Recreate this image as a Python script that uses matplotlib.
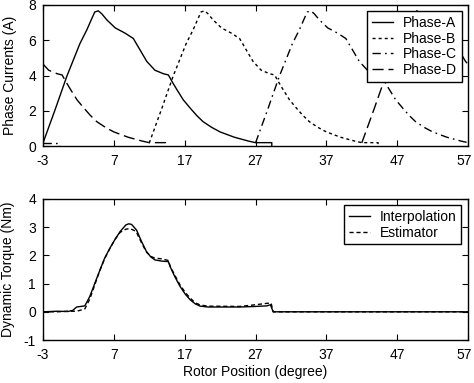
import matplotlib
matplotlib.use("Agg")
import matplotlib.pyplot as plt
import matplotlib.transforms as mtransforms

plt.rcParams['font.family'] = ['Liberation Sans', 'DejaVu Sans']

# ---------------- data: phase currents (A) vs rotor position (deg) ----------------
phase_a_x = [-3, -1.3, 0.35, 2.2, 3.2, 3.8, 4.3, 4.8, 5.3, 6.0, 7.2, 8.6, 9.75, 10.7, 11.65,
             12.8, 14.0, 14.7, 15.3, 15.9, 16.8, 17.8, 18.7, 19.6, 20.8, 22.0, 24.0, 26.0, 27.0,
             29.3, 29.3]
phase_a_y = [0.17, 2.05, 3.94, 5.8, 6.6, 7.15, 7.6, 7.67, 7.5, 7.16, 6.7, 6.4, 6.1, 5.45, 4.8,
             4.3, 4.1, 4.03, 3.6, 3.2, 2.62, 2.14, 1.73, 1.38, 1.06, 0.8, 0.5, 0.28, 0.19,
             0.19, 0.0]

phase_b_x = [12, 13.7, 15.35, 17.2, 18.2, 18.8, 19.3, 19.8, 20.3, 21.0, 22.2, 23.6, 24.75, 25.7, 26.65,
             27.8, 29.0, 29.7, 30.3, 30.9, 31.8, 32.8, 33.7, 34.6, 35.8, 37.0, 39.0, 41.0, 42.0,
             44.3, 44.3]
phase_b_y = [0.17, 2.05, 3.94, 5.8, 6.6, 7.15, 7.6, 7.67, 7.5, 7.16, 6.7, 6.4, 6.1, 5.45, 4.8,
             4.3, 4.1, 4.03, 3.6, 3.2, 2.62, 2.14, 1.73, 1.38, 1.06, 0.8, 0.5, 0.28, 0.19,
             0.19, 0.0]

phase_c_x = [27, 28.7, 30.35, 32.2, 33.2, 33.8, 34.3, 34.8, 35.3, 36.0, 37.2, 38.6, 39.75, 40.7, 41.65,
             42.8, 44.0, 44.7, 45.3, 45.9, 46.8, 47.8, 48.7, 49.6, 50.8, 52.0, 54.0, 56.0, 57.0]
phase_c_y = [0.17, 2.05, 3.94, 5.8, 6.6, 7.15, 7.6, 7.67, 7.5, 7.16, 6.7, 6.4, 6.1, 5.45, 4.8,
             4.3, 4.1, 4.03, 3.6, 3.2, 2.62, 2.14, 1.73, 1.38, 1.06, 0.8, 0.5, 0.28, 0.19]
phase_c_tail_x = [-3, -0.7, -0.7]
phase_c_tail_y = [0.19, 0.19, 0.0]

phase_d_x = [42, 43.7, 45.35, 47.2, 48.2, 48.8, 49.3, 49.8, 50.3, 51.0, 52.2, 53.6, 54.75, 55.7,
             56.65, 57.0]
phase_d_y = [0.17, 2.05, 3.94, 5.8, 6.6, 7.15, 7.6, 7.67, 7.5, 7.16, 6.7, 6.4, 6.1, 5.45,
             4.8, 4.65]
phase_d_tail_x = [-3, -2.2, -1.0, -0.3, 0.3, 0.9, 1.8, 2.8, 3.7, 4.6, 5.8, 7.0, 9.0, 11.0, 12.0,
                  14.3, 14.3]
phase_d_tail_y = [4.65, 4.3, 4.1, 4.03, 3.6, 3.2, 2.62, 2.14, 1.73, 1.38, 1.06, 0.8, 0.5, 0.28, 0.19,
                  0.19, 0.0]

# ---------------- data: dynamic torque (Nm) ----------------
interp_x = [-3, -1, 0.5, 1.2, 1.75, 2.9, 3.6, 4.3, 5.05, 5.7, 6.45, 7.2, 7.9, 8.7, 9.1, 9.5,
            10.2, 10.9, 11.6, 12.2, 12.8, 13.7, 14.7, 14.95, 15.6, 16.35, 17.1, 17.8, 18.5,
            19.2, 20.3, 24.8, 27.0, 28.6, 29.1, 29.5, 57]
interp_y = [0.0, 0.02, 0.01, 0.05, 0.17, 0.21, 0.54, 1.0, 1.49, 1.9, 2.26, 2.58, 2.85, 3.08, 3.12, 3.1,
            2.9, 2.5, 2.14, 1.95, 1.84, 1.8, 1.78, 1.6, 1.25, 0.9, 0.62, 0.42, 0.28,
            0.2, 0.17, 0.17, 0.19, 0.21, 0.25, 0.0, 0.0]

est_x = [-3, -1, 0.5, 1.75, 2.9, 3.6, 4.3, 5.05, 5.7, 6.45, 7.2, 7.9, 8.7, 9.3, 9.9, 10.2,
         10.9, 11.6, 12.2, 12.8, 13.7, 14.7, 14.95, 15.6, 16.35, 17.1, 17.8, 18.5, 19.2, 20.3,
         24.8, 27.0, 28.6, 29.2, 29.5, 57]
est_y = [0.0, 0.0, 0.02, 0.02, 0.1, 0.45, 0.95, 1.48, 1.88, 2.25, 2.58, 2.82, 2.93, 2.95, 2.88, 2.82,
         2.45, 2.12, 1.97, 1.9, 1.88, 1.82, 1.62, 1.3, 0.95, 0.68, 0.48, 0.32, 0.24, 0.2,
         0.19, 0.25, 0.3, 0.31, 0.0, 0.0]

x_ticks = [-3, 7, 17, 27, 37, 47, 57]
top_y_ticks = [0, 2, 4, 6, 8]
bot_y_ticks = [-1, 0, 1, 2, 3, 4]

# ---------------- figure ----------------
W, H = 474, 383
fig = plt.figure(figsize=(W / 100, H / 100), dpi=100)

def ax_rect(l, t, r, b):
    return [l / W, 1 - b / H, (r - l) / W, (b - t) / H]

ax1 = fig.add_axes(ax_rect(43, 5, 468, 146))
ax2 = fig.add_axes(ax_rect(43, 199, 468, 340))

lw = 1.0
col = 'black'
sty_b = (0, (2.2, 2.2))
sty_c = (0, (6, 3, 1.2, 3))
sty_d = (0, (8, 3.5))

ax1.plot(phase_a_x, phase_a_y, color=col, lw=lw, ls='-', label='Phase-A')
ax1.plot(phase_b_x, phase_b_y, color=col, lw=lw, ls=sty_b, label='Phase-B')
ax1.plot(phase_c_x, phase_c_y, color=col, lw=lw, ls=sty_c, label='Phase-C')
ax1.plot(phase_d_x, phase_d_y, color=col, lw=lw, ls=sty_d, label='Phase-D')
ax1.plot(phase_c_tail_x, phase_c_tail_y, color=col, lw=lw, ls=sty_c)
ax1.plot(phase_d_tail_x, phase_d_tail_y, color=col, lw=lw, ls=sty_d)

ax2.plot(interp_x, interp_y, color=col, lw=lw, ls='-', label='Interpolation')
ax2.plot(est_x, est_y, color=col, lw=lw, ls=(0, (3, 2)), label='Estimator')

shift = mtransforms.ScaledTranslation(-4 / 100, 0, fig.dpi_scale_trans)
for ax, yt, ylim in ((ax1, top_y_ticks, (0, 8)), (ax2, bot_y_ticks, (-1, 4))):
    ax.set_xlim(-3, 57)
    ax.set_ylim(*ylim)
    ax.set_xticks(x_ticks)
    ax.set_xticklabels([str(v) for v in x_ticks])
    ax.set_yticks(yt)
    ax.set_yticklabels([str(v) for v in yt])
    ax.tick_params(direction='in', length=4, width=0.8, top=True, right=True,
                   labelsize=10, colors='black')
    ax.tick_params(axis='x', pad=6)
    ax.tick_params(axis='y', pad=5)
    for s in ax.spines.values():
        s.set_linewidth(1.0)
        s.set_color('black')
    last = ax.get_xticklabels()[-1]
    last.set_transform(last.get_transform() + shift)

ax1.set_ylabel('Phase Currents (A)', fontsize=10, labelpad=8)
ax2.set_ylabel('Dynamic Torque (Nm)', fontsize=10, labelpad=6)
ax2.set_xlabel('Rotor Position (degree)', fontsize=10, labelpad=2)

leg_kw = dict(loc='upper right', fancybox=False, framealpha=1, edgecolor='black',
              fontsize=10, borderaxespad=0, handlelength=1.5, handletextpad=0.7,
              labelspacing=0.12, borderpad=0.35)
l1 = ax1.legend(bbox_to_anchor=(0.985, 0.957), **leg_kw)
l2 = ax2.legend(bbox_to_anchor=(0.9835, 0.957), **leg_kw)
for l in (l1, l2):
    l.get_frame().set_linewidth(1.0)

fig.savefig('out.png', dpi=100)
